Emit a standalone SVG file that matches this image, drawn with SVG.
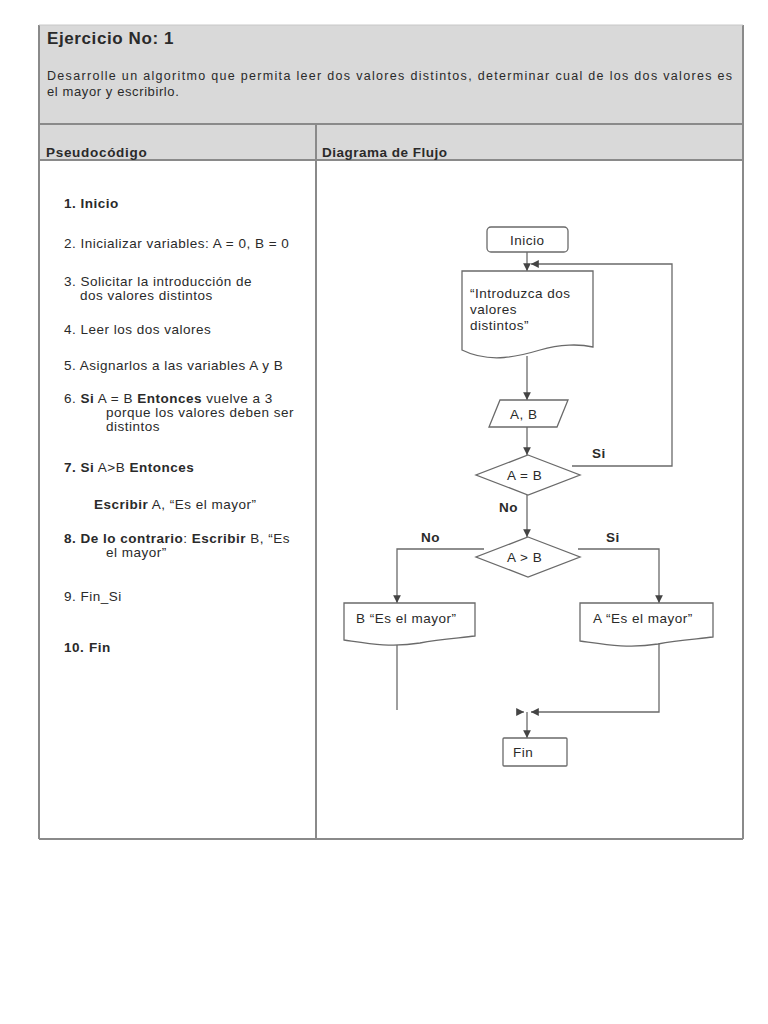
<svg xmlns="http://www.w3.org/2000/svg" width="768" height="1024" viewBox="0 0 768 1024">
<defs>
<style>
text{font-family:"Liberation Sans",Arial,sans-serif;fill:#2a2a2a}
.t{font-size:13.5px;letter-spacing:0.5px}
.f{font-size:13.5px;letter-spacing:0.5px}
.b{font-weight:bold}
.shape{fill:#fff;stroke:#6a6a6a;stroke-width:1.3}
.conn{fill:none;stroke:#6a6a6a;stroke-width:1.3}
.grid{stroke:#8a8a8a;stroke-width:2}
</style>
<marker id="ah" viewBox="0 0 10 10" refX="10" refY="5" markerWidth="6" markerHeight="6" orient="auto">
<path d="M0,0 L10,5 L0,10 Z" fill="#444"/>
</marker>
</defs>
<rect width="768" height="1024" fill="#fff"/>
<g id="table">
<rect x="39" y="25" width="704" height="135" fill="#d9d9d9"/>
<rect x="39" y="160" width="704" height="679" fill="#fff"/>
<line class="grid" x1="39" y1="124" x2="743" y2="124"/>
<line class="grid" x1="39" y1="160" x2="743" y2="160" stroke="#9a9a9a"/>
<line class="grid" x1="39" y1="25" x2="39" y2="839"/>
<line class="grid" x1="743" y1="25" x2="743" y2="839"/>
<line class="grid" x1="316" y1="124" x2="316" y2="839"/>
<line class="grid" x1="39" y1="839" x2="743" y2="839" stroke="#a0a0a0"/>
<line x1="39" y1="25" x2="743" y2="25" stroke="#c8c8c8" stroke-width="1"/>
</g>
<g id="header">
<text x="47" y="44" class="b" style="font-size:17px;letter-spacing:0.6px">Ejercicio No: 1</text>
<text x="47" y="80" style="font-size:12.5px" textLength="685" lengthAdjust="spacing">Desarrolle un algoritmo que permita leer dos valores distintos, determinar cual de los dos valores es</text>
<text x="47" y="96" style="font-size:13px;letter-spacing:0.6px">el mayor y escribirlo.</text>
<text x="46" y="157" class="b" style="font-size:13.5px;letter-spacing:0.7px">Pseudocódigo</text>
<text x="322" y="157" class="b" style="font-size:13.5px;letter-spacing:0.5px">Diagrama de Flujo</text>
</g>
<g id="pseudocode">
<text x="64" y="208" class="t b">1. Inicio</text>
<text x="64" y="248" class="t">2. Inicializar variables: A = 0, B = 0</text>
<text x="64" y="286" class="t">3. Solicitar la introducción de</text>
<text x="80" y="300" class="t">dos valores distintos</text>
<text x="64" y="334" class="t">4. Leer los dos valores</text>
<text x="64" y="370" class="t">5. Asignarlos a las variables A y B</text>
<text x="64" y="403" class="t">6. <tspan class="b">Si</tspan> A = B <tspan class="b">Entonces</tspan> vuelve a 3</text>
<text x="106" y="417" class="t">porque los valores deben ser</text>
<text x="106" y="431" class="t">distintos</text>
<text x="64" y="472" class="t"><tspan class="b">7. Si</tspan> A&gt;B  <tspan class="b">Entonces</tspan></text>
<text x="94" y="509" class="t"><tspan class="b">Escribir</tspan>  A, “Es el mayor”</text>
<text x="64" y="543" class="t"><tspan class="b">8. De lo contrario</tspan>: <tspan class="b">Escribir</tspan> B, “Es</text>
<text x="106" y="557" class="t">el mayor”</text>
<text x="64" y="601" class="t">9. Fin_Si</text>
<text x="64" y="652" class="t b">10.<tspan x="89">Fin</tspan></text>
</g>
<g id="connectors">
<line class="conn" x1="527" y1="252" x2="527" y2="271" marker-end="url(#ah)"/>
<polyline class="conn" points="572,466 672,466 672,264 531,264" marker-end="url(#ah)"/>
<line class="conn" x1="527" y1="356" x2="527" y2="400" marker-end="url(#ah)"/>
<line class="conn" x1="527" y1="427" x2="527" y2="455" marker-end="url(#ah)"/>
<line class="conn" x1="527" y1="495" x2="527" y2="537" marker-end="url(#ah)"/>
<polyline class="conn" points="484,549 397,549 397,603" marker-end="url(#ah)"/>
<polyline class="conn" points="578,549 659,549 659,603" marker-end="url(#ah)"/>
<line class="conn" x1="397" y1="642" x2="397" y2="710"/>
<polyline class="conn" points="659,644 659,712 531,712" marker-end="url(#ah)"/>
<line class="conn" x1="517" y1="712" x2="524" y2="712" marker-end="url(#ah)"/>
<line class="conn" x1="527" y1="712" x2="527" y2="738" marker-end="url(#ah)"/>
</g>
<g id="inicio">
<rect class="shape" x="487" y="227" width="81" height="25" rx="4"/>
<text x="510" y="245" class="f">Inicio</text>
</g>
<g id="mensaje">
<path class="shape" d="M462,271 H593 V347 C580,344 560,344 540,350 C520,356 490,364 462,350 Z"/>
<text x="470" y="298" class="f">“Introduzca dos</text>
<text x="470" y="314" class="f">valores</text>
<text x="470" y="330" class="f">distintos”</text>
</g>
<g id="leer">
<polygon class="shape" points="500,400 568,400 557,427 489,427"/>
<text x="510" y="419" class="f">A, B</text>
</g>
<g id="cond1">
<polygon class="shape" points="528,455 580,475 528,495 476,475"/>
<text x="507" y="480" class="f">A = B</text>
<text x="592" y="458" class="f b">Si</text>
<text x="499" y="512" class="f b">No</text>
</g>
<g id="cond2">
<polygon class="shape" points="528,537 580,557 528,577 476,557"/>
<text x="507" y="562" class="f">A &gt; B</text>
<text x="421" y="542" class="f b">No</text>
<text x="606" y="542" class="f b">Si</text>
</g>
<g id="salidaB">
<path class="shape" d="M344,603 H475 V636 C460,638 440,639 420,643 C390,648 365,643 344,640 Z"/>
<text x="356" y="623" class="f">B  “Es el mayor”</text>
</g>
<g id="salidaA">
<path class="shape" d="M580,603 H713 V637 C698,639 678,640 658,644 C628,649 602,644 580,641 Z"/>
<text x="593" y="623" class="f">A  “Es el mayor”</text>
</g>
<g id="fin">
<rect class="shape" x="503" y="738" width="64" height="28" rx="1"/>
<text x="513" y="757" class="f">Fin</text>
</g>
</svg>
